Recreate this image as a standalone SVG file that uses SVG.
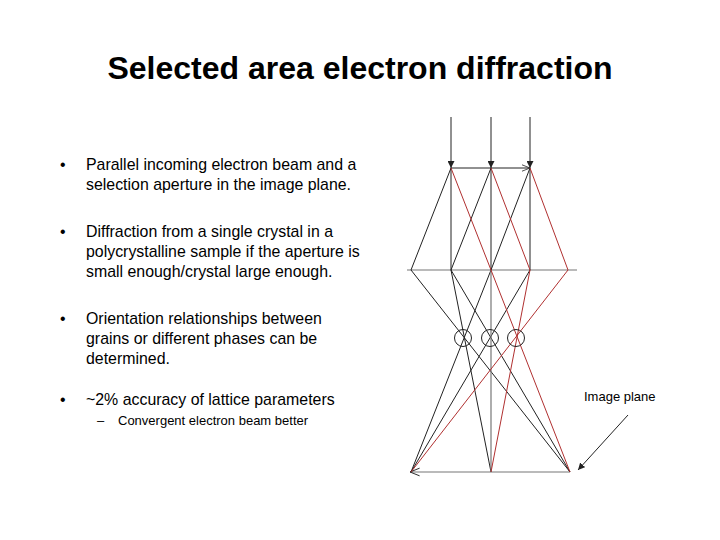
<svg xmlns="http://www.w3.org/2000/svg" width="720" height="540" viewBox="0 0 720 540">
<style>
text{font-family:"Liberation Sans",Arial,sans-serif;fill:#000}
.b{font-size:15.9px}.s{font-size:13px}
.k{stroke:#222;stroke-width:1;fill:none}.r{stroke:#b03030;stroke-width:1;fill:none}.g{stroke:#777;stroke-width:1.2;fill:none}
</style>
<defs><marker id="ah" viewBox="0 0 10 10" refX="10" refY="5" markerWidth="7" markerHeight="7" orient="auto"><path d="M0,0L10,5L0,10z" fill="#222"/></marker>
<marker id="oa" viewBox="0 0 10 10" refX="10" refY="5" markerWidth="8" markerHeight="8" orient="auto"><path d="M0,1L10,5L0,9" fill="none" stroke="#222"/></marker></defs>
<rect width="720" height="540" fill="#fff"/>
<text x="360" y="79" text-anchor="middle" font-size="32" font-weight="bold">Selected area electron diffraction</text>
<g id="bullets">
<text class="b" x="60" y="170">•</text><text class="b" x="86" y="170">Parallel incoming electron beam and a</text><text class="b" x="86" y="190">selection aperture in the image plane.</text>
<text class="b" x="60" y="237">•</text><text class="b" x="86" y="237">Diffraction from a single crystal in a</text><text class="b" x="86" y="257">polycrystalline sample if the aperture is</text><text class="b" x="86" y="277">small enough/crystal large enough.</text>
<text class="b" x="60" y="324">•</text><text class="b" x="86" y="324">Orientation relationships between</text><text class="b" x="86" y="344">grains or different phases can be</text><text class="b" x="86" y="364">determined.</text>
<text class="b" x="60" y="405">•</text><text class="b" x="86" y="405">~2% accuracy of lattice parameters</text>
<text class="s" x="97" y="425">–</text><text class="s" x="118" y="425">Convergent electron beam better</text>
</g>
<g id="connectors">
<line class="k" x1="451" y1="117" x2="451" y2="168" marker-end="url(#ah)"/>
<line class="k" x1="491" y1="117" x2="491" y2="168" marker-end="url(#ah)"/>
<line class="k" x1="530" y1="117" x2="530" y2="168" marker-end="url(#ah)"/>
<line class="k" x1="451" y1="168" x2="530" y2="168" marker-end="url(#oa)"/>
<line class="g" x1="407" y1="270" x2="577" y2="270"/>
<line class="g" x1="410" y1="472" x2="570" y2="472" marker-end="url(#oa)" transform="rotate(180 490 472)"/>
<path class="k" d="M451,168L411,270M451,168L451,270M491,168L451,270M491,168L491,270M530,168L491,270M530,168L530,270"/>
<path class="r" d="M451,168L491,270M491,168L530,270M530,168L568,270"/>
<path class="k" d="M411,270L570,472M451,270L570,472M451,270L491,472M491,270L411,472M530,270L411,472"/>
<line class="g" x1="491" y1="270" x2="491" y2="472"/>
<path class="r" d="M491,270L570,472M530,270L491,472M568,270L411,472"/>
<line class="k" x1="628" y1="415" x2="578" y2="470" marker-end="url(#ah)"/>
</g>
<g id="apertures" class="k"><circle cx="463" cy="338" r="8.5"/><circle cx="490" cy="338" r="8.5"/><circle cx="516" cy="338" r="8.5"/></g>
<text x="584" y="401" font-size="13">Image plane</text>
</svg>
